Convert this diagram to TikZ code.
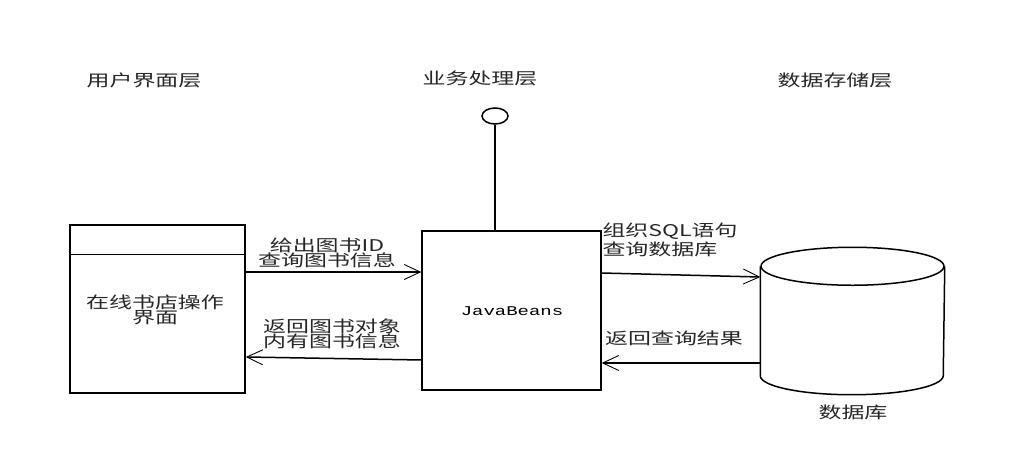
\documentclass[tikz,border=0pt]{standalone}
\usepackage{fontspec}
\newfontfamily\cjk{Noto Sans CJK SC}
\newfontfamily\beansfont{Liberation Mono}
\usetikzlibrary{arrows.meta}
\usetikzlibrary{shapes.geometric}
\tikzset{
	lbl/.style={font=\cjk\fontsize{9.2pt}{8.6pt}\selectfont, xscale=1.42, align=center, inner sep=0pt, text=black!85},
	box/.style={draw, rectangle, inner sep=0pt},
	msg/.style={-{Straight Barb[length=0.32cm,width=0.3cm,line width=0.5pt]}}
}

\begin{document}
\begin{tikzpicture}[x=0.02cm, y=-0.02cm, line width=0.03cm]
		\useasboundingbox (0, 0) rectangle (1023, 452);
		% layers
		\node [lbl] (uilayer) at (144, 80) {用户界面层};
		\node [lbl] (bizlayer) at (480, 78) {业务处理层};
		\node [lbl] (datalayer) at (835, 80) {数据存储层};

		\node [box, minimum width=3.5cm, minimum height=3.36cm] (ui) at (157.5, 309) {};
		\node [box, minimum width=3.58cm, minimum height=3.18cm] (beans) at (511.5, 310.5) {};
		\node [inner sep=0pt, minimum width=3.66cm, minimum height=2.92cm] (db) at (852.5, 321) {};
		\node [draw, ellipse, inner sep=0pt, minimum width=0.52cm, minimum height=0.32cm] (port) at (495, 116) {};

		\draw ([yshift=-0.6cm]ui.north west) -- ([yshift=-0.6cm]ui.north east);
		\draw (port.south) -- (port.south |- beans.north);

		% database drum
		\draw ([yshift=-0.38cm]db.north) ellipse [x radius=1.83cm, y radius=0.38cm];
		\draw ([yshift=-0.38cm]db.north west) -- ([yshift=0.38cm]db.south west)
			arc [start angle=180, end angle=360, x radius=1.83cm, y radius=0.38cm]
			-- ([yshift=-0.38cm]db.north east);

		\node [lbl] (uitext) at (155, 310) {在线书店操作\\界面};
		\node [font=\beansfont\fontsize{7.6pt}{9pt}\selectfont, xscale=1.42, inner sep=0pt] (beanstext) at (512, 311) {JavaBeans};
		\node [lbl] (dbtext) at (853, 412) {数据库};

		\draw [msg] ([yshift=0.74cm]ui.east) -- ([yshift=0.74cm]ui.east -| beans.west);
		\draw [msg] ([yshift=-0.99cm]beans.west) -- ([yshift=-0.93cm]beans.west -| ui.east);
		\draw [msg] ([yshift=0.75cm]beans.east) -- ([yshift=0.88cm]db.west);
		\draw [msg] ([yshift=-0.84cm]db.west) -- ([yshift=-0.84cm]db.west -| beans.east);

		\node [lbl] (asklabel) at (327, 253) {给出图书ID\\查询图书信息};
		\node [lbl] (backlabel) at (332, 334) {返回图书对象\\内有图书信息};
		\node [lbl, align=left] (sqllabel) at (670, 240) {组织SQL语句\\查询数据库};
		\node [lbl] (resultlabel) at (674, 338) {返回查询结果};
\end{tikzpicture}
\end{document}
